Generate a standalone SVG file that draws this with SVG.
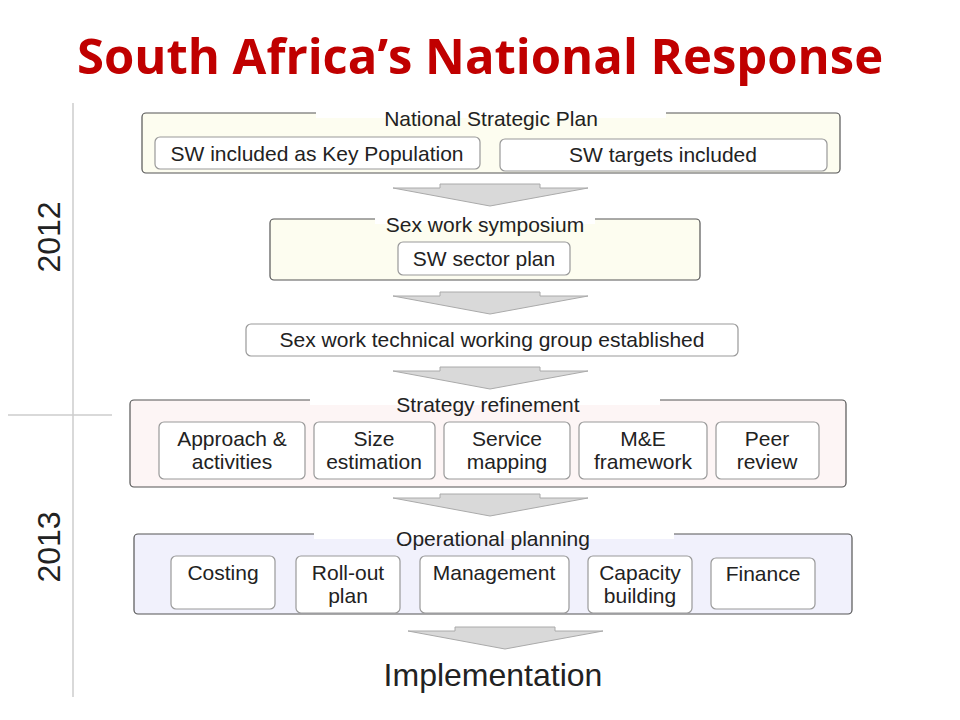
<svg xmlns="http://www.w3.org/2000/svg" width="960" height="720" viewBox="0 0 960 720">
<style>
text{font-family:Arial,"Liberation Sans",sans-serif;fill:#222;text-anchor:middle}
.t{font-size:21px}
.in{fill:#fff;stroke:#999;stroke-width:1.2}
.arr{fill:#d9d9d9;stroke:#aaa;stroke-width:1}
.hd{fill:#fff}
</style>
<rect width="960" height="720" fill="#fff"/>
<text x="480" y="74" style="font-family:'Open Sans','Liberation Sans',sans-serif;font-weight:bold;font-size:49px;fill:#c00000">South Africa’s National Response</text>
<g id="timeline" stroke="#ccc" stroke-width="1.5">
<line x1="73" y1="103" x2="73" y2="697"/>
<line x1="8" y1="415" x2="112" y2="415"/>
</g>
<text transform="translate(60,237) rotate(-90)" style="font-size:32px">2012</text>
<text transform="translate(60,547) rotate(-90)" style="font-size:32px">2013</text>
<g id="connectors">
<polygon class="arr" points="440,184 540,184 540,188 588,188 490,206 393,188 440,188"/>
<polygon class="arr" points="440,292 540,292 540,296 588,296 490,314 393,296 440,296"/>
<polygon class="arr" points="440,367 540,367 540,371 588,371 490,389 393,371 440,371"/>
<polygon class="arr" points="440,494 540,494 540,498 588,498 490,516 393,498 440,498"/>
<polygon class="arr" points="455,627 555,627 555,631 603,631 505,649 408,631 455,631"/>
</g>
<g id="nsp">
<rect x="142" y="113" width="698" height="60" rx="4" fill="#fdfdf0" stroke="#555" stroke-width="1.2"/>
<rect x="316" y="108" width="350" height="10" class="hd"/>
<text x="491" y="126" class="t">National Strategic Plan</text>
<rect x="155" y="137" width="325" height="32" rx="5" class="in"/>
<text x="317" y="161" class="t">SW included as Key Population</text>
<rect x="500" y="139" width="327" height="32" rx="5" class="in"/>
<text x="663" y="162" class="t">SW targets included</text>
</g>
<g id="symposium">
<rect x="270" y="219" width="430" height="61" rx="4" fill="#fdfdf0" stroke="#555" stroke-width="1.2"/>
<rect x="375" y="214" width="220" height="10" class="hd"/>
<text x="485" y="232" class="t">Sex work symposium</text>
<rect x="398" y="242" width="172" height="33" rx="5" class="in"/>
<text x="484" y="266" class="t">SW sector plan</text>
</g>
<g id="twg">
<rect x="246" y="324" width="492" height="32" rx="5" class="in"/>
<text x="492" y="347" class="t">Sex work technical working group established</text>
</g>
<g id="refinement">
<rect x="130" y="400" width="716" height="87" rx="4" fill="#fdf5f5" stroke="#555" stroke-width="1.2"/>
<rect x="310" y="395" width="350" height="10" class="hd"/>
<text x="488" y="412" class="t">Strategy refinement</text>
<rect x="159" y="422" width="146" height="57" rx="5" class="in"/>
<text x="232" y="446" class="t">Approach &amp;</text><text x="232" y="469" class="t">activities</text>
<rect x="314" y="422" width="121" height="57" rx="5" class="in"/>
<text x="374" y="446" class="t">Size</text><text x="374" y="469" class="t">estimation</text>
<rect x="444" y="422" width="126" height="57" rx="5" class="in"/>
<text x="507" y="446" class="t">Service</text><text x="507" y="469" class="t">mapping</text>
<rect x="579" y="422" width="128" height="57" rx="5" class="in"/>
<text x="643" y="446" class="t">M&amp;E</text><text x="643" y="469" class="t">framework</text>
<rect x="716" y="422" width="103" height="57" rx="5" class="in"/>
<text x="767" y="446" class="t">Peer</text><text x="767" y="469" class="t">review</text>
</g>
<g id="operational">
<rect x="134" y="534" width="718" height="80" rx="4" fill="#f1f1fc" stroke="#555" stroke-width="1.2"/>
<rect x="314" y="529" width="360" height="10" class="hd"/>
<text x="493" y="546" class="t">Operational planning</text>
<rect x="171" y="556" width="104" height="53" rx="5" class="in"/>
<text x="223" y="580" class="t">Costing</text>
<rect x="296" y="556" width="104" height="57" rx="5" class="in"/>
<text x="348" y="580" class="t">Roll-out</text><text x="348" y="603" class="t">plan</text>
<rect x="420" y="556" width="149" height="57" rx="5" class="in"/>
<text x="494" y="580" class="t">Management</text>
<rect x="588" y="556" width="104" height="57" rx="5" class="in"/>
<text x="640" y="580" class="t">Capacity</text><text x="640" y="603" class="t">building</text>
<rect x="711" y="558" width="104" height="51" rx="5" class="in"/>
<text x="763" y="581" class="t">Finance</text>
</g>
<g id="implementation">
<text x="493" y="686" style="font-size:32px">Implementation</text>
</g>
</svg>
